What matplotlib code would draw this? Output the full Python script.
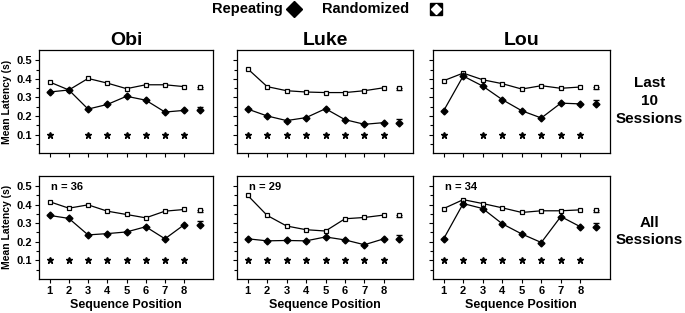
import matplotlib
matplotlib.use("Agg")
import matplotlib.pyplot as plt
import numpy as np

plt.rcParams['font.family'] = ['Liberation Sans', 'DejaVu Sans']
plt.rcParams['font.weight'] = 'bold'

positions = [1, 2, 3, 4, 5, 6, 7, 8]
monkeys = ["Obi", "Luke", "Lou"]
row_names = ["Last\n10\nSessions", "All\nSessions"]
n_counts = ["n = 36", "n = 29", "n = 34"]

# last 10 sessions
obi_rand_last = [0.383, 0.340, 0.402, 0.377, 0.347, 0.368, 0.368, 0.358]
obi_rep_last = [0.329, 0.340, 0.237, 0.262, 0.306, 0.285, 0.221, 0.230]
luke_rand_last = [0.454, 0.358, 0.336, 0.329, 0.326, 0.326, 0.336, 0.352]
luke_rep_last = [0.237, 0.200, 0.175, 0.191, 0.239, 0.180, 0.155, 0.164]
lou_rand_last = [0.390, 0.431, 0.395, 0.374, 0.345, 0.363, 0.349, 0.356]
lou_rep_last = [0.228, 0.415, 0.361, 0.288, 0.228, 0.189, 0.269, 0.265]

# all sessions
obi_rand_all = [0.416, 0.381, 0.399, 0.365, 0.347, 0.329, 0.365, 0.374]
obi_rep_all = [0.342, 0.326, 0.237, 0.244, 0.253, 0.281, 0.216, 0.292]
luke_rand_all = [0.450, 0.342, 0.285, 0.265, 0.258, 0.324, 0.331, 0.344]
luke_rep_all = [0.216, 0.205, 0.207, 0.205, 0.226, 0.210, 0.184, 0.216]
lou_rand_all = [0.379, 0.427, 0.406, 0.383, 0.358, 0.367, 0.367, 0.372]
lou_rep_all = [0.216, 0.406, 0.379, 0.297, 0.242, 0.196, 0.336, 0.281]

# overall means and error bars
rand_mean = [[0.358, 0.352, 0.356], [0.372, 0.344, 0.372]]
rand_err = [[0.014, 0.012, 0.012], [0.014, 0.012, 0.012]]
rep_mean = [[0.230, 0.164, 0.265], [0.292, 0.216, 0.281]]
rep_err = [[0.020, 0.020, 0.022], [0.021, 0.019, 0.019]]

# significant positions (stars)
stars_last = [[1, 3, 4, 5, 6, 7, 8], [1, 2, 3, 4, 5, 6, 7, 8], [1, 3, 4, 5, 6, 7, 8]]
stars_all = [[1, 2, 3, 4, 5, 6, 7, 8]] * 3

rand_data = [[obi_rand_last, luke_rand_last, lou_rand_last],
             [obi_rand_all, luke_rand_all, lou_rand_all]]
rep_data = [[obi_rep_last, luke_rep_last, lou_rep_last],
            [obi_rep_all, luke_rep_all, lou_rep_all]]
stars = [stars_last, stars_all]

fig = plt.figure(figsize=(6.85, 3.13), dpi=100)

lefts = [0.057, 0.346, 0.632]
widths = [0.254, 0.257, 0.258]
bottoms = [0.511, 0.109]
height = 0.329

for r in range(2):
    for c in range(3):
        ax = fig.add_axes([lefts[c], bottoms[r], widths[c], height])
        ax.plot(positions, rand_data[r][c], color='black', lw=0.9, marker='s',
                ms=3.5, mfc='white', mec='black', mew=0.9, zorder=3)
        ax.plot(positions, rep_data[r][c], color='black', lw=0.9, marker='D',
                ms=3.5, mfc='black', mec='black', zorder=3)
        ax.errorbar([8.8], [rand_mean[r][c]], yerr=[[rand_err[r][c]], [0]],
                    fmt='s', ms=3.5, mfc='white', mec='black', mew=0.9,
                    ecolor='black', elinewidth=0.8, capsize=2, zorder=3)
        ax.errorbar([8.8], [rep_mean[r][c]], yerr=[[0], [rep_err[r][c]]],
                    fmt='D', ms=3.5, mfc='black', mec='black',
                    ecolor='black', elinewidth=0.8, capsize=2, zorder=3)
        ax.plot(stars[r][c], [0.1] * len(stars[r][c]), ls='none', marker='*',
                ms=5, color='black')

        ax.set_xlim(0.45, 9.5)
        ax.set_ylim(0, 0.555)
        ax.set_xticks(positions)
        ax.set_yticks([0.1, 0.2, 0.3, 0.4, 0.5])
        ax.set_yticks(np.arange(0.05, 0.55, 0.1), minor=True)
        ax.tick_params(direction='out', length=3, width=0.8, labelsize=8, pad=2)
        ax.tick_params(which='minor', direction='out', length=2, width=0.8)
        for s in ax.spines.values():
            s.set_linewidth(0.9)

        if c == 0:
            ax.set_yticklabels(['0.1', '0.2', '0.3', '0.4', '0.5'], fontweight='bold')
            ax.set_ylabel('Mean Latency (s)', fontsize=7.5, fontweight='bold', labelpad=3)
        else:
            ax.set_yticklabels([])

        if r == 1:
            ax.set_xticklabels([str(p) for p in positions], fontweight='bold')
            ax.set_xlabel('Sequence Position', fontsize=9, fontweight='bold', labelpad=2)
            ax.text(0.07, 0.86, n_counts[c], transform=ax.transAxes, fontsize=8,
                    fontweight='bold')
        else:
            ax.set_xticklabels([])
            ax.set_title(monkeys[c], fontsize=14, fontweight='bold', pad=4)

# row labels
fig.text(0.948, 0.677, row_names[0], ha='center', va='center', fontsize=11,
         fontweight='bold', linespacing=1.35)
fig.text(0.948, 0.26, row_names[1], ha='center', va='center', fontsize=11,
         fontweight='bold', linespacing=1.25)

# legend at top
fig.text(0.413, 0.972, 'Repeating', ha='right', va='center', fontsize=10.5, fontweight='bold')
fig.text(0.47, 0.972, 'Randomized', ha='left', va='center', fontsize=10.5, fontweight='bold')
leg = fig.add_axes([0, 0.93, 1, 0.08])
leg.set_xlim(0, 685)
leg.set_ylim(0, 1)
leg.axis('off')
leg.plot([294], [0.52], marker='D', ms=8, color='black', ls='none')
leg.plot([436], [0.52], marker='s', ms=9, color='black', ls='none')
leg.plot([436], [0.52], marker='D', ms=5, color='white', ls='none')

fig.savefig('out.png', dpi=100)
